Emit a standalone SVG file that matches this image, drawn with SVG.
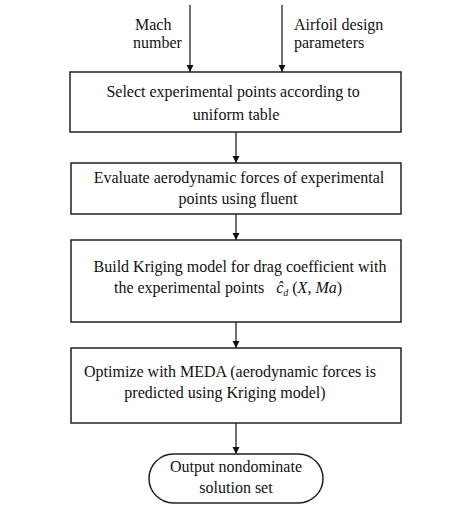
<svg xmlns="http://www.w3.org/2000/svg" width="474" height="515" viewBox="0 0 474 515">
<style>
.box{fill:#fff;stroke:#222;stroke-width:1.5}
.t{font-family:"Liberation Serif","Times New Roman",serif;font-size:16px;fill:#111}
.c{text-anchor:middle}
.i{font-style:italic}
.ln{stroke:#222;stroke-width:1.3;fill:none}
</style>
<defs>
<marker id="ah" viewBox="0 0 7 10" refX="7" refY="5" markerWidth="7" markerHeight="10" markerUnits="userSpaceOnUse" orient="auto">
<path d="M0,1.5 L7,5 L0,8.5 Z" fill="#111"/>
</marker>
</defs>
<rect width="474" height="515" fill="#fff"/>
<g id="inputs">
<text class="t" x="135" y="30">Mach</text>
<text class="t" x="133" y="48">number</text>
<text class="t" x="294" y="30">Airfoil design</text>
<text class="t" x="294" y="48">parameters</text>
</g>
<g id="n1">
<rect class="box" x="70" y="72" width="331" height="60"/>
<text class="t c" x="233" y="97">Select experimental points according to</text>
<text class="t c" x="236" y="120">uniform table</text>
</g>
<g id="n2">
<rect class="box" x="71" y="163" width="330" height="51"/>
<text class="t c" x="239" y="183">Evaluate aerodynamic forces of experimental</text>
<text class="t c" x="238" y="204">points using fluent</text>
</g>
<g id="n3">
<rect class="box" x="71" y="240" width="330" height="82"/>
<text class="t c" x="228" y="293">the experimental points <tspan class="i" dx="8">ĉ</tspan><tspan class="i" font-size="10" dy="3">d</tspan><tspan dy="-3"> (</tspan><tspan class="i">X</tspan>, <tspan class="i">Ma</tspan>)</text>
<text class="t c" x="240" y="272">Build Kriging model for drag coefficient with</text>
</g>
<g id="n4">
<rect class="box" x="71" y="348" width="330" height="75"/>
<text class="t c" x="230" y="377">Optimize with MEDA (aerodynamic forces is</text>
<text class="t c" x="225" y="398">predicted using Kriging model)</text>
</g>
<g id="n5">
<rect class="box" x="149" y="454" width="174" height="49" rx="24.5" ry="24.5"/>
<text class="t c" x="236" y="472">Output nondominate</text>
<text class="t c" x="236" y="493">solution set</text>
</g>
<g id="connectors">
<line class="ln" x1="190" y1="5" x2="190" y2="72" marker-end="url(#ah)"/>
<line class="ln" x1="282" y1="5" x2="282" y2="72" marker-end="url(#ah)"/>
<line class="ln" x1="236" y1="132" x2="236" y2="163" marker-end="url(#ah)"/>
<line class="ln" x1="236" y1="214" x2="236" y2="240" marker-end="url(#ah)"/>
<line class="ln" x1="236" y1="322" x2="236" y2="348" marker-end="url(#ah)"/>
<line class="ln" x1="236" y1="423" x2="236" y2="454" marker-end="url(#ah)"/>
</g>
</svg>
